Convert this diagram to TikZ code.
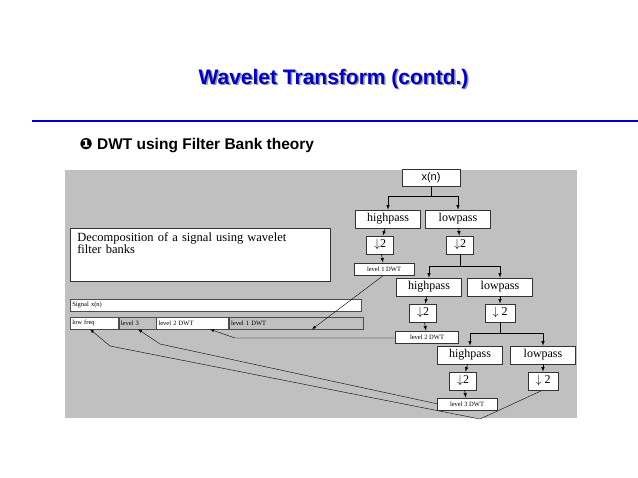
\documentclass[tikz,border=0pt]{standalone}
\usepackage{fontspec}
\setmainfont{Liberation Serif}
\newfontfamily\arialfont{Liberation Sans}
\newfontfamily\dejafont{DejaVu Sans}
\usetikzlibrary{arrows}
\definecolor{titleblue}{RGB}{0,0,204}
\definecolor{panelgray}{RGB}{192,192,192}
\begin{document}
\begin{tikzpicture}[x=1pt,y=-1pt,>=latex,semithick]
    \tikzstyle{filter}=[draw=black!80,fill=white,minimum width=65pt,minimum height=18pt,inner sep=1pt,font=\fontsize{12}{13}\selectfont]
    \tikzstyle{down}=[draw=black!80,fill=white,minimum width=27pt,minimum height=18pt,inner sep=1pt,font=\fontsize{12}{13}\selectfont]
    \tikzstyle{level}=[draw=black!80,fill=white,minimum width=60pt,minimum height=12pt,inner sep=1pt,font=\fontsize{6.5}{7}\selectfont]
    \tikzstyle{seg}=[draw=black!70,minimum height=12pt,inner sep=2pt,anchor=west,font=\fontsize{6.5}{7}\selectfont,text width=#1,align=left]
    \tikzstyle{link}=[->,thin]
    \useasboundingbox (0,0) rectangle (638,478);
    \fill[white] (0,0) rectangle (638,478);
    % title
    \node[text=black!40,font=\arialfont\bfseries\fontsize{21}{24}\selectfont] at (335,80.5) {Wavelet Transform (contd.)};
    \node (title)[text=titleblue,font=\arialfont\bfseries\fontsize{21}{24}\selectfont] at (333.5,79) {Wavelet Transform (contd.)};
    \draw[titleblue,line width=1.5pt] (32,121) -- (638,121);
    \node (bullet)[anchor=west,font=\arialfont\bfseries\fontsize{15.5}{18}\selectfont] at (76,146) {{\dejafont\char"2776}\ DWT using Filter Bank theory};
    % panel
    \fill[panelgray] (65,170) rectangle (577,418);
    % left boxes
    \node[draw=black!80,fill=white,anchor=north west,minimum width=260pt,text depth=36pt,text width=246pt,align=left,inner xsep=6pt,inner ysep=4pt,font=\fontsize{12.5}{12}\selectfont] (caption) at (70,228) {Decomposition of a signal using wavelet\\filter banks};
    \node[seg=287pt,fill=white] (sig) at (70,305) {Signal x(n)};
    \node[seg=44pt,fill=white] (lf) at (70,323) {low freq};
    \node[seg=33pt,fill=panelgray] (s3) at (lf.east) {level 3};
    \node[seg=68pt,fill=white] (s2) at (s3.east) {level 2 DWT};
    \node[seg=130pt,fill=panelgray] (s1) at (s2.east) {level 1 DWT};
    % links to the bars
    \coordinate (c2) at (235,338);
    \coordinate (c3) at (160,344);
    \coordinate (cl) at (480,419);
    \coordinate (cf) at (110,346);
    \draw[link] (384,275) -- (s1.south -| 312,0);
    \draw[link] (396,338) -- (c2) -- (s2.south -| 210,0);
    \draw[link] (438,404) -- (c3) -- (s3.south -| 138,0);
    \draw[link] (543,390) -- (cl) -- (cf) -- (lf.south -| 90,0);
    % filter tree
    \node[filter,minimum width=58pt,minimum height=17pt,font=\arialfont\fontsize{11}{12}\selectfont] (x) at (431,178) {x(n)};
    \node[filter] (h1) at (388,219) {highpass};
    \node[filter] (l1) at (458,219) {lowpass};
    \node[down] (dh1) at (380,245) {$\downarrow$2};
    \node[down] (dl1) at (460,245) {$\downarrow$2};
    \node[level] (lv1) at (384,269) {level 1 DWT};
    \node[filter] (h2) at (429,287) {highpass};
    \node[filter] (l2) at (500,287) {lowpass};
    \node[down] (dh2) at (423,313) {$\downarrow$2};
    \node[down,minimum width=30pt] (dl2) at (500,313) {$\downarrow$ 2};
    \node[level,minimum width=63pt] (lv2) at (427,337) {level 2 DWT};
    \node[filter] (h3) at (470,355) {highpass};
    \node[filter] (l3) at (543,355) {lowpass};
    \node[down] (dh3) at (463,381) {$\downarrow$2};
    \node[down,minimum width=30pt] (dl3) at (543,381) {$\downarrow$ 2};
    \node[level] (lv3) at (467,404) {level 3 DWT};
    \draw[->] (x.south) -- ++(0,10) -| (h1.north);
    \draw[->] (x.south) ++(0,10) -| (l1.north);
    \draw[->] (h1) -- (dh1);
    \draw[->] (l1) -- (dl1);
    \draw[->] (dh1) -- (lv1);
    \draw[->] (dl1.south) -- ++(0,12) -| (h2.north);
    \draw[->] (dl1.south) ++(0,12) -| (l2.north);
    \draw[->] (h2) -- (dh2);
    \draw[->] (l2) -- (dl2);
    \draw[->] (dh2) -- (lv2);
    \draw[->] (dl2.south) -- ++(0,11) -| (h3.north);
    \draw[->] (dl2.south) ++(0,11) -| (l3.north);
    \draw[->] (h3) -- (dh3);
    \draw[->] (l3) -- (dl3);
    \draw[->] (dh3) -- (lv3);
\end{tikzpicture}
\end{document}
